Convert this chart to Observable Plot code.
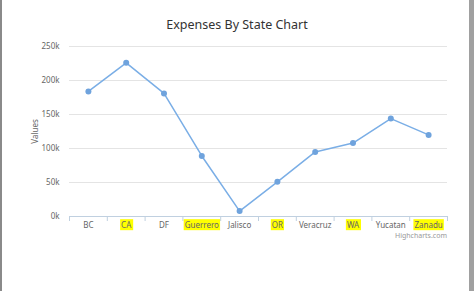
<!DOCTYPE html>
<html><head><meta charset="utf-8">
<script src="https://cdn.jsdelivr.net/npm/d3@7"></script>
<script src="https://cdn.jsdelivr.net/npm/@observablehq/plot@0.6"></script>
<style>
html,body{margin:0;padding:0;background:#fff;}
#wrap{position:relative;width:474px;height:291px;overflow:hidden;font-family:"Noto Sans",sans-serif;background:#fff;}
#title{position:absolute;left:0;top:17px;width:474px;text-align:center;font-size:12.5px;color:#333;line-height:16px;}
#chart{position:absolute;left:0;top:40px;}
#credit{position:absolute;right:27px;top:231px;font-size:7px;color:#999;line-height:9px;}
#bl{position:absolute;left:0;top:0;width:2px;height:291px;background:#8a8a8a;}
#br{position:absolute;right:0;top:0;width:5px;height:291px;background:#a0a0a0;}
</style>
</head>
<body>
<div id="wrap">
  <div id="title">Expenses By State Chart</div>
  <div id="chart"></div>
  <div id="credit">Highcharts.com</div>
  <div id="bl"></div>
  <div id="br"></div>
</div>
<script>
const states = ["BC","CA","DF","Guerrero","Jalisco","OR","Veracruz","WA","Yucatan","Zanadu"];
const values = [184000,226000,181000,89000,8000,51000,95000,108000,144000,120000];
const highlighted = ["CA","Guerrero","OR","WA","Zanadu"];
const yTicks = [0,50000,100000,150000,200000,250000];

const data = states.map((s,i)=>({i, state:s, value:values[i]}));

const plot = Plot.plot({
  width:474, height:251,
  marginTop:6, marginBottom:75, marginLeft:69, marginRight:27,
  style:{fontFamily:"Noto Sans", fontSize:"8px", color:"#666", background:"transparent", overflow:"visible"},
  x:{type:"linear", domain:[-0.5, states.length-0.5]},
  y:{domain:[0,250000]},
  marks:[
    Plot.gridY(yTicks,{stroke:"#e4e4e4", strokeOpacity:1}),
    Plot.axisY(yTicks,{tickSize:0, tickPadding:10, tickFormat:d=>d/1000+"k", label:"Values", labelAnchor:"center", labelArrow:"none", labelOffset:37}),
    Plot.ruleY([0],{stroke:"#C0D0E0"}),
    Plot.axisX(d3.range(states.length+1).map(i=>i-0.5),{tickSize:5, stroke:"#C0D0E0", tickFormat:()=>"", label:null}),
    Plot.axisX(d3.range(states.length),{tickSize:0, tickPadding:6, tickFormat:i=>states[i], label:null}),
    Plot.line(data,{x:"i", y:"value", stroke:"#7aaee6", strokeWidth:1.5}),
    Plot.dot(data,{x:"i", y:"value", r:3, fill:"#6fa3dd"})
  ]
});
document.getElementById("chart").append(plot);

const hl = new Set(highlighted);
plot.querySelectorAll('g[aria-label="x-axis tick label"] text').forEach(t=>{
  if(!hl.has(t.textContent)) return;
  const b = t.getBBox();
  const r = document.createElementNS("http://www.w3.org/2000/svg","rect");
  r.setAttribute("x", b.x-1);
  r.setAttribute("y", b.y);
  r.setAttribute("width", b.width+2);
  r.setAttribute("height", b.height);
  const tr = t.getAttribute("transform");
  if (tr) r.setAttribute("transform", tr);
  r.setAttribute("fill", "#ffff00");
  t.parentNode.insertBefore(r, t);
});
</script>
</body></html>
